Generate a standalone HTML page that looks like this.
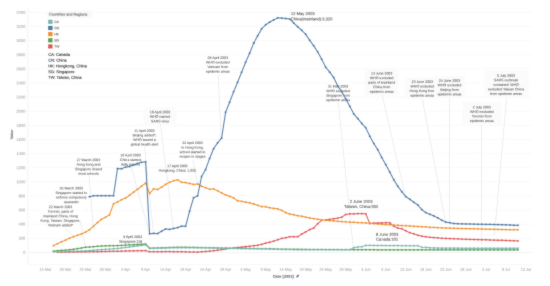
<!DOCTYPE html>
<html><head><meta charset="utf-8"><title>SARS 2003</title><style>html,body{margin:0;padding:0;background:#fff}body{width:550px;height:286px;overflow:hidden}</style></head><body>
<div style="width:1100px;height:572px;transform:scale(0.5);transform-origin:0 0;will-change:transform"><svg width="1100" height="572" viewBox="0 0 550 286" style="display:block;font-family:'Liberation Sans',sans-serif" text-rendering="geometricPrecision">
<defs><filter id="soft" x="0" y="0" width="550" height="286" filterUnits="userSpaceOnUse" color-interpolation-filters="sRGB"><feGaussianBlur in="SourceGraphic" stdDeviation="0.8" result="b"/><feComposite in="b" in2="SourceGraphic" operator="arithmetic" k1="0" k2="0.5" k3="0.5" k4="0"/></filter></defs>
<g filter="url(#soft)">
<rect width="550" height="286" fill="#fff"/>
<line x1="27.6" x2="531.4" y1="252.40" y2="252.40" stroke="#ededed" stroke-width="0.6"/>
<text x="25.3" y="253.80" transform="rotate(0.05 25.3 253.80)" font-size="4.0" fill="#9c9c9c" stroke="#9c9c9c" stroke-width="0.04" text-anchor="end">0</text>
<line x1="27.6" x2="531.4" y1="238.28" y2="238.28" stroke="#f7f7f7" stroke-width="0.6"/>
<text x="25.3" y="239.68" transform="rotate(0.05 25.3 239.68)" font-size="4.0" fill="#9c9c9c" stroke="#9c9c9c" stroke-width="0.04" text-anchor="end">200</text>
<line x1="27.6" x2="531.4" y1="224.16" y2="224.16" stroke="#f7f7f7" stroke-width="0.6"/>
<text x="25.3" y="225.56" transform="rotate(0.05 25.3 225.56)" font-size="4.0" fill="#9c9c9c" stroke="#9c9c9c" stroke-width="0.04" text-anchor="end">400</text>
<line x1="27.6" x2="531.4" y1="210.05" y2="210.05" stroke="#f7f7f7" stroke-width="0.6"/>
<text x="25.3" y="211.45" transform="rotate(0.05 25.3 211.45)" font-size="4.0" fill="#9c9c9c" stroke="#9c9c9c" stroke-width="0.04" text-anchor="end">600</text>
<line x1="27.6" x2="531.4" y1="195.93" y2="195.93" stroke="#f7f7f7" stroke-width="0.6"/>
<text x="25.3" y="197.33" transform="rotate(0.05 25.3 197.33)" font-size="4.0" fill="#9c9c9c" stroke="#9c9c9c" stroke-width="0.04" text-anchor="end">800</text>
<line x1="27.6" x2="531.4" y1="181.81" y2="181.81" stroke="#f7f7f7" stroke-width="0.6"/>
<text x="25.3" y="183.21" transform="rotate(0.05 25.3 183.21)" font-size="4.0" fill="#9c9c9c" stroke="#9c9c9c" stroke-width="0.04" text-anchor="end">1000</text>
<line x1="27.6" x2="531.4" y1="167.69" y2="167.69" stroke="#f7f7f7" stroke-width="0.6"/>
<text x="25.3" y="169.09" transform="rotate(0.05 25.3 169.09)" font-size="4.0" fill="#9c9c9c" stroke="#9c9c9c" stroke-width="0.04" text-anchor="end">1200</text>
<line x1="27.6" x2="531.4" y1="153.58" y2="153.58" stroke="#f7f7f7" stroke-width="0.6"/>
<text x="25.3" y="154.98" transform="rotate(0.05 25.3 154.98)" font-size="4.0" fill="#9c9c9c" stroke="#9c9c9c" stroke-width="0.04" text-anchor="end">1400</text>
<line x1="27.6" x2="531.4" y1="139.46" y2="139.46" stroke="#f7f7f7" stroke-width="0.6"/>
<text x="25.3" y="140.86" transform="rotate(0.05 25.3 140.86)" font-size="4.0" fill="#9c9c9c" stroke="#9c9c9c" stroke-width="0.04" text-anchor="end">1600</text>
<line x1="27.6" x2="531.4" y1="125.34" y2="125.34" stroke="#f7f7f7" stroke-width="0.6"/>
<text x="25.3" y="126.74" transform="rotate(0.05 25.3 126.74)" font-size="4.0" fill="#9c9c9c" stroke="#9c9c9c" stroke-width="0.04" text-anchor="end">1800</text>
<line x1="27.6" x2="531.4" y1="111.22" y2="111.22" stroke="#f7f7f7" stroke-width="0.6"/>
<text x="25.3" y="112.62" transform="rotate(0.05 25.3 112.62)" font-size="4.0" fill="#9c9c9c" stroke="#9c9c9c" stroke-width="0.04" text-anchor="end">2000</text>
<line x1="27.6" x2="531.4" y1="97.11" y2="97.11" stroke="#f7f7f7" stroke-width="0.6"/>
<text x="25.3" y="98.51" transform="rotate(0.05 25.3 98.51)" font-size="4.0" fill="#9c9c9c" stroke="#9c9c9c" stroke-width="0.04" text-anchor="end">2200</text>
<line x1="27.6" x2="531.4" y1="82.99" y2="82.99" stroke="#f7f7f7" stroke-width="0.6"/>
<text x="25.3" y="84.39" transform="rotate(0.05 25.3 84.39)" font-size="4.0" fill="#9c9c9c" stroke="#9c9c9c" stroke-width="0.04" text-anchor="end">2400</text>
<line x1="27.6" x2="531.4" y1="68.87" y2="68.87" stroke="#f7f7f7" stroke-width="0.6"/>
<text x="25.3" y="70.27" transform="rotate(0.05 25.3 70.27)" font-size="4.0" fill="#9c9c9c" stroke="#9c9c9c" stroke-width="0.04" text-anchor="end">2600</text>
<line x1="27.6" x2="531.4" y1="54.75" y2="54.75" stroke="#f7f7f7" stroke-width="0.6"/>
<text x="25.3" y="56.15" transform="rotate(0.05 25.3 56.15)" font-size="4.0" fill="#9c9c9c" stroke="#9c9c9c" stroke-width="0.04" text-anchor="end">2800</text>
<line x1="27.6" x2="531.4" y1="40.64" y2="40.64" stroke="#f7f7f7" stroke-width="0.6"/>
<text x="25.3" y="42.04" transform="rotate(0.05 25.3 42.04)" font-size="4.0" fill="#9c9c9c" stroke="#9c9c9c" stroke-width="0.04" text-anchor="end">3000</text>
<line x1="27.6" x2="531.4" y1="26.52" y2="26.52" stroke="#f7f7f7" stroke-width="0.6"/>
<text x="25.3" y="27.92" transform="rotate(0.05 25.3 27.92)" font-size="4.0" fill="#9c9c9c" stroke="#9c9c9c" stroke-width="0.04" text-anchor="end">3200</text>
<line x1="27.6" x2="531.4" y1="12.40" y2="12.40" stroke="#f7f7f7" stroke-width="0.6"/>
<text x="25.3" y="13.80" transform="rotate(0.05 25.3 13.80)" font-size="4.0" fill="#9c9c9c" stroke="#9c9c9c" stroke-width="0.04" text-anchor="end">3400</text>
<line x1="27.8" x2="27.8" y1="7.8" y2="264.5" stroke="#eeeeee" stroke-width="0.6"/>
<line x1="27.6" x2="531.4" y1="264.5" y2="264.5" stroke="#f1f1f1" stroke-width="0.6"/>
<text x="45.5" y="270.75" transform="rotate(0.05 45.5 270.75)" font-size="3.85" fill="#9c9c9c" stroke="#9c9c9c" stroke-width="0.04" text-anchor="middle">15 Mar</text>
<text x="65.5" y="270.75" transform="rotate(0.05 65.5 270.75)" font-size="3.85" fill="#9c9c9c" stroke="#9c9c9c" stroke-width="0.04" text-anchor="middle">20 Mar</text>
<text x="85.5" y="270.75" transform="rotate(0.05 85.5 270.75)" font-size="3.85" fill="#9c9c9c" stroke="#9c9c9c" stroke-width="0.04" text-anchor="middle">25 Mar</text>
<text x="105.5" y="270.75" transform="rotate(0.05 105.5 270.75)" font-size="3.85" fill="#9c9c9c" stroke="#9c9c9c" stroke-width="0.04" text-anchor="middle">30 Mar</text>
<text x="125.5" y="270.75" transform="rotate(0.05 125.5 270.75)" font-size="3.85" fill="#9c9c9c" stroke="#9c9c9c" stroke-width="0.04" text-anchor="middle">4 Apr</text>
<text x="145.6" y="270.75" transform="rotate(0.05 145.6 270.75)" font-size="3.85" fill="#9c9c9c" stroke="#9c9c9c" stroke-width="0.04" text-anchor="middle">9 Apr</text>
<text x="165.6" y="270.75" transform="rotate(0.05 165.6 270.75)" font-size="3.85" fill="#9c9c9c" stroke="#9c9c9c" stroke-width="0.04" text-anchor="middle">14 Apr</text>
<text x="185.6" y="270.75" transform="rotate(0.05 185.6 270.75)" font-size="3.85" fill="#9c9c9c" stroke="#9c9c9c" stroke-width="0.04" text-anchor="middle">19 Apr</text>
<text x="205.6" y="270.75" transform="rotate(0.05 205.6 270.75)" font-size="3.85" fill="#9c9c9c" stroke="#9c9c9c" stroke-width="0.04" text-anchor="middle">24 Apr</text>
<text x="225.6" y="270.75" transform="rotate(0.05 225.6 270.75)" font-size="3.85" fill="#9c9c9c" stroke="#9c9c9c" stroke-width="0.04" text-anchor="middle">29 Apr</text>
<text x="245.6" y="270.75" transform="rotate(0.05 245.6 270.75)" font-size="3.85" fill="#9c9c9c" stroke="#9c9c9c" stroke-width="0.04" text-anchor="middle">4 May</text>
<text x="265.7" y="270.75" transform="rotate(0.05 265.7 270.75)" font-size="3.85" fill="#9c9c9c" stroke="#9c9c9c" stroke-width="0.04" text-anchor="middle">9 May</text>
<text x="285.7" y="270.75" transform="rotate(0.05 285.7 270.75)" font-size="3.85" fill="#9c9c9c" stroke="#9c9c9c" stroke-width="0.04" text-anchor="middle">14 May</text>
<text x="305.7" y="270.75" transform="rotate(0.05 305.7 270.75)" font-size="3.85" fill="#9c9c9c" stroke="#9c9c9c" stroke-width="0.04" text-anchor="middle">19 May</text>
<text x="325.7" y="270.75" transform="rotate(0.05 325.7 270.75)" font-size="3.85" fill="#9c9c9c" stroke="#9c9c9c" stroke-width="0.04" text-anchor="middle">24 May</text>
<text x="345.7" y="270.75" transform="rotate(0.05 345.7 270.75)" font-size="3.85" fill="#9c9c9c" stroke="#9c9c9c" stroke-width="0.04" text-anchor="middle">29 May</text>
<text x="365.8" y="270.75" transform="rotate(0.05 365.8 270.75)" font-size="3.85" fill="#9c9c9c" stroke="#9c9c9c" stroke-width="0.04" text-anchor="middle">3 Jun</text>
<text x="385.8" y="270.75" transform="rotate(0.05 385.8 270.75)" font-size="3.85" fill="#9c9c9c" stroke="#9c9c9c" stroke-width="0.04" text-anchor="middle">8 Jun</text>
<text x="405.8" y="270.75" transform="rotate(0.05 405.8 270.75)" font-size="3.85" fill="#9c9c9c" stroke="#9c9c9c" stroke-width="0.04" text-anchor="middle">13 Jun</text>
<text x="425.8" y="270.75" transform="rotate(0.05 425.8 270.75)" font-size="3.85" fill="#9c9c9c" stroke="#9c9c9c" stroke-width="0.04" text-anchor="middle">18 Jun</text>
<text x="445.8" y="270.75" transform="rotate(0.05 445.8 270.75)" font-size="3.85" fill="#9c9c9c" stroke="#9c9c9c" stroke-width="0.04" text-anchor="middle">23 Jun</text>
<text x="465.9" y="270.75" transform="rotate(0.05 465.9 270.75)" font-size="3.85" fill="#9c9c9c" stroke="#9c9c9c" stroke-width="0.04" text-anchor="middle">28 Jun</text>
<text x="485.9" y="270.75" transform="rotate(0.05 485.9 270.75)" font-size="3.85" fill="#9c9c9c" stroke="#9c9c9c" stroke-width="0.04" text-anchor="middle">3 Jul</text>
<text x="505.9" y="270.75" transform="rotate(0.05 505.9 270.75)" font-size="3.85" fill="#9c9c9c" stroke="#9c9c9c" stroke-width="0.04" text-anchor="middle">8 Jul</text>
<text x="525.9" y="270.75" transform="rotate(0.05 525.9 270.75)" font-size="3.85" fill="#9c9c9c" stroke="#9c9c9c" stroke-width="0.04" text-anchor="middle">13 Jul</text>
<text x="283.4" y="277.80" transform="rotate(0.05 283.4 277.80)" font-size="3.92" fill="#555" stroke="#555" stroke-width="0" text-anchor="middle" font-weight="bold">Date [2003]</text>
<g transform="translate(297.4 276.3) rotate(45)" fill="#56627a"><rect x="-0.75" y="-1.7" width="1.5" height="2.3" rx="0.3"/><rect x="-1.15" y="0.3" width="2.3" height="0.5"/><rect x="-0.15" y="0.8" width="0.3" height="1.3"/></g>
<text transform="translate(13.2 134.5) rotate(-90)" font-size="3.75" font-weight="bold" fill="#555" text-anchor="middle">Value</text>
<line x1="77.3" y1="204.5" x2="85.4" y2="246.9" stroke="#dedede" stroke-width="0.5"/>
<text x="71.3" y="189.43" transform="rotate(0.05 71.3 189.43)" font-size="3.52" fill="#404040" stroke="#404040" stroke-width="0.03" text-anchor="middle">25 March 2003</text>
<text x="71.3" y="193.98" transform="rotate(0.05 71.3 193.98)" font-size="3.52" fill="#404040" stroke="#404040" stroke-width="0.03" text-anchor="middle">Singapore started to</text>
<text x="71.3" y="198.53" transform="rotate(0.05 71.3 198.53)" font-size="3.52" fill="#404040" stroke="#404040" stroke-width="0.03" text-anchor="middle">enforce compulsory</text>
<text x="71.3" y="203.08" transform="rotate(0.05 71.3 203.08)" font-size="3.52" fill="#404040" stroke="#404040" stroke-width="0.03" text-anchor="middle">quarantin</text>
<rect x="38" y="203.5" width="45.0" height="19.5" fill="#fff"/>
<line x1="65.5" y1="228.5" x2="73.4" y2="235.5" stroke="#dedede" stroke-width="0.5"/>
<text x="60.5" y="208.13" transform="rotate(0.05 60.5 208.13)" font-size="3.52" fill="#404040" stroke="#404040" stroke-width="0.03" text-anchor="middle">22 March 2003</text>
<text x="60.5" y="212.68" transform="rotate(0.05 60.5 212.68)" font-size="3.52" fill="#404040" stroke="#404040" stroke-width="0.03" text-anchor="middle">Toronto, parts of</text>
<text x="60.5" y="217.23" transform="rotate(0.05 60.5 217.23)" font-size="3.52" fill="#404040" stroke="#404040" stroke-width="0.03" text-anchor="middle">mainland China, Hong</text>
<text x="60.5" y="221.78" transform="rotate(0.05 60.5 221.78)" font-size="3.52" fill="#404040" stroke="#404040" stroke-width="0.03" text-anchor="middle">Kong, Taiwan, Singapore,</text>
<text x="60.5" y="226.33" transform="rotate(0.05 60.5 226.33)" font-size="3.52" fill="#404040" stroke="#404040" stroke-width="0.03" text-anchor="middle">Vietnam added*</text>
<line x1="89.1" y1="176.4" x2="93.4" y2="227.3" stroke="#dedede" stroke-width="0.5"/>
<text x="88.5" y="161.13" transform="rotate(0.05 88.5 161.13)" font-size="3.52" fill="#404040" stroke="#404040" stroke-width="0.03" text-anchor="middle">27 March 2003</text>
<text x="88.5" y="165.68" transform="rotate(0.05 88.5 165.68)" font-size="3.52" fill="#404040" stroke="#404040" stroke-width="0.03" text-anchor="middle">Hong kong and</text>
<text x="88.5" y="170.23" transform="rotate(0.05 88.5 170.23)" font-size="3.52" fill="#404040" stroke="#404040" stroke-width="0.03" text-anchor="middle">Singapore closed</text>
<text x="88.5" y="174.78" transform="rotate(0.05 88.5 174.78)" font-size="3.52" fill="#404040" stroke="#404040" stroke-width="0.03" text-anchor="middle">most schools</text>
<line x1="131.4" y1="167.3" x2="149.4" y2="233.5" stroke="#dedede" stroke-width="0.5"/>
<text x="130.5" y="156.43" transform="rotate(0.05 130.5 156.43)" font-size="3.52" fill="#404040" stroke="#404040" stroke-width="0.03" text-anchor="middle">10 April 2003</text>
<text x="130.5" y="160.98" transform="rotate(0.05 130.5 160.98)" font-size="3.52" fill="#404040" stroke="#404040" stroke-width="0.03" text-anchor="middle">China started</text>
<text x="130.5" y="165.53" transform="rotate(0.05 130.5 165.53)" font-size="3.52" fill="#404040" stroke="#404040" stroke-width="0.03" text-anchor="middle">daily reports</text>
<line x1="144.5" y1="146.8" x2="153.4" y2="233.1" stroke="#dedede" stroke-width="0.5"/>
<text x="144.5" y="131.83" transform="rotate(0.05 144.5 131.83)" font-size="3.52" fill="#404040" stroke="#404040" stroke-width="0.03" text-anchor="middle">11 April 2003</text>
<text x="144.5" y="136.38" transform="rotate(0.05 144.5 136.38)" font-size="3.52" fill="#404040" stroke="#404040" stroke-width="0.03" text-anchor="middle">Beijing added*;</text>
<text x="144.5" y="140.93" transform="rotate(0.05 144.5 140.93)" font-size="3.52" fill="#404040" stroke="#404040" stroke-width="0.03" text-anchor="middle">WHO issued a</text>
<text x="144.5" y="145.48" transform="rotate(0.05 144.5 145.48)" font-size="3.52" fill="#404040" stroke="#404040" stroke-width="0.03" text-anchor="middle">global health alert</text>
<rect x="143.8" y="107" width="32.4" height="17.5" fill="#fbfbfb"/>
<line x1="160.4" y1="124.5" x2="173.4" y2="228.2" stroke="#dedede" stroke-width="0.5"/>
<text x="160" y="113.23" transform="rotate(0.05 160 113.23)" font-size="3.52" fill="#404040" stroke="#404040" stroke-width="0.03" text-anchor="middle">16 April 2003</text>
<text x="160" y="117.78" transform="rotate(0.05 160 117.78)" font-size="3.52" fill="#404040" stroke="#404040" stroke-width="0.03" text-anchor="middle">WHO named</text>
<text x="160" y="122.33" transform="rotate(0.05 160 122.33)" font-size="3.52" fill="#404040" stroke="#404040" stroke-width="0.03" text-anchor="middle">SARS virus</text>
<line x1="192.7" y1="159.5" x2="197.4" y2="183.7" stroke="#dedede" stroke-width="0.5"/>
<text x="192.5" y="144.03" transform="rotate(0.05 192.5 144.03)" font-size="3.52" fill="#404040" stroke="#404040" stroke-width="0.03" text-anchor="middle">22 April 2003</text>
<text x="192.5" y="148.58" transform="rotate(0.05 192.5 148.58)" font-size="3.52" fill="#404040" stroke="#404040" stroke-width="0.03" text-anchor="middle">In Hong Kong,</text>
<text x="192.5" y="153.13" transform="rotate(0.05 192.5 153.13)" font-size="3.52" fill="#404040" stroke="#404040" stroke-width="0.03" text-anchor="middle">school started to</text>
<text x="192.5" y="157.68" transform="rotate(0.05 192.5 157.68)" font-size="3.52" fill="#404040" stroke="#404040" stroke-width="0.03" text-anchor="middle">reopen in stages</text>
<line x1="218.2" y1="74.6" x2="221.0" y2="136.5" stroke="#dedede" stroke-width="0.5"/>
<text x="217.8" y="58.93" transform="rotate(0.05 217.8 58.93)" font-size="3.52" fill="#404040" stroke="#404040" stroke-width="0.03" text-anchor="middle">28 April 2003</text>
<text x="217.8" y="63.48" transform="rotate(0.05 217.8 63.48)" font-size="3.52" fill="#404040" stroke="#404040" stroke-width="0.03" text-anchor="middle">WHO excluded</text>
<text x="217.8" y="68.03" transform="rotate(0.05 217.8 68.03)" font-size="3.52" fill="#404040" stroke="#404040" stroke-width="0.03" text-anchor="middle">Vietnam  from</text>
<text x="217.8" y="72.58" transform="rotate(0.05 217.8 72.58)" font-size="3.52" fill="#404040" stroke="#404040" stroke-width="0.03" text-anchor="middle">epidemic areas</text>
<line x1="338.3" y1="102.8" x2="353.4" y2="249.3" stroke="#dedede" stroke-width="0.5"/>
<text x="338.1" y="87.53" transform="rotate(0.05 338.1 87.53)" font-size="3.52" fill="#404040" stroke="#404040" stroke-width="0.03" text-anchor="middle">31 May 2003</text>
<text x="338.1" y="92.08" transform="rotate(0.05 338.1 92.08)" font-size="3.52" fill="#404040" stroke="#404040" stroke-width="0.03" text-anchor="middle">WHO excluded</text>
<text x="338.1" y="96.63" transform="rotate(0.05 338.1 96.63)" font-size="3.52" fill="#404040" stroke="#404040" stroke-width="0.03" text-anchor="middle">Singapore from</text>
<text x="338.1" y="101.18" transform="rotate(0.05 338.1 101.18)" font-size="3.52" fill="#404040" stroke="#404040" stroke-width="0.03" text-anchor="middle">epidemic areas</text>
<rect x="364.8" y="69.4" width="33.8" height="26.2" fill="#fbfbfb"/>
<line x1="382.3" y1="95.5" x2="405.4" y2="196.3" stroke="#dedede" stroke-width="0.5"/>
<text x="381.7" y="74.53" transform="rotate(0.05 381.7 74.53)" font-size="3.52" fill="#404040" stroke="#404040" stroke-width="0.03" text-anchor="middle">13 June 2003</text>
<text x="381.7" y="79.08" transform="rotate(0.05 381.7 79.08)" font-size="3.52" fill="#404040" stroke="#404040" stroke-width="0.03" text-anchor="middle">WHO excluded</text>
<text x="381.7" y="83.63" transform="rotate(0.05 381.7 83.63)" font-size="3.52" fill="#404040" stroke="#404040" stroke-width="0.03" text-anchor="middle">parts of mainland</text>
<text x="381.7" y="88.18" transform="rotate(0.05 381.7 88.18)" font-size="3.52" fill="#404040" stroke="#404040" stroke-width="0.03" text-anchor="middle">China from</text>
<text x="381.7" y="92.73" transform="rotate(0.05 381.7 92.73)" font-size="3.52" fill="#404040" stroke="#404040" stroke-width="0.03" text-anchor="middle">epidemic areas</text>
<rect x="405" y="77.7" width="31.0" height="20.9" fill="#fbfbfb"/>
<line x1="422.3" y1="98.6" x2="445.4" y2="221.8" stroke="#dedede" stroke-width="0.5"/>
<text x="422.3" y="82.93" transform="rotate(0.05 422.3 82.93)" font-size="3.52" fill="#404040" stroke="#404040" stroke-width="0.03" text-anchor="middle">23 June 2003</text>
<text x="422.3" y="87.48" transform="rotate(0.05 422.3 87.48)" font-size="3.52" fill="#404040" stroke="#404040" stroke-width="0.03" text-anchor="middle">WHO excluded</text>
<text x="422.3" y="92.03" transform="rotate(0.05 422.3 92.03)" font-size="3.52" fill="#404040" stroke="#404040" stroke-width="0.03" text-anchor="middle">Hong Kong from</text>
<text x="422.3" y="96.58" transform="rotate(0.05 422.3 96.58)" font-size="3.52" fill="#404040" stroke="#404040" stroke-width="0.03" text-anchor="middle">epidemic areas</text>
<rect x="434" y="75.9" width="31.0" height="21.8" fill="#fbfbfb"/>
<line x1="449.5" y1="97.7" x2="449.4" y2="222.4" stroke="#dedede" stroke-width="0.5"/>
<text x="449.5" y="81.73" transform="rotate(0.05 449.5 81.73)" font-size="3.52" fill="#404040" stroke="#404040" stroke-width="0.03" text-anchor="middle">24 June 2003</text>
<text x="449.5" y="86.28" transform="rotate(0.05 449.5 86.28)" font-size="3.52" fill="#404040" stroke="#404040" stroke-width="0.03" text-anchor="middle">WHO excluded</text>
<text x="449.5" y="90.83" transform="rotate(0.05 449.5 90.83)" font-size="3.52" fill="#404040" stroke="#404040" stroke-width="0.03" text-anchor="middle">Beijing from</text>
<text x="449.5" y="95.38" transform="rotate(0.05 449.5 95.38)" font-size="3.52" fill="#404040" stroke="#404040" stroke-width="0.03" text-anchor="middle">epidemic areas</text>
<rect x="462.8" y="102.3" width="38.6" height="22.2" fill="#fbfbfb"/>
<line x1="481.6" y1="124.5" x2="481.4" y2="244.2" stroke="#dedede" stroke-width="0.5"/>
<text x="481.8" y="108.33" transform="rotate(0.05 481.8 108.33)" font-size="3.52" fill="#404040" stroke="#404040" stroke-width="0.03" text-anchor="middle">2 July 2003</text>
<text x="481.8" y="112.88" transform="rotate(0.05 481.8 112.88)" font-size="3.52" fill="#404040" stroke="#404040" stroke-width="0.03" text-anchor="middle">WHO excluded</text>
<text x="481.8" y="117.43" transform="rotate(0.05 481.8 117.43)" font-size="3.52" fill="#404040" stroke="#404040" stroke-width="0.03" text-anchor="middle">Toronto from</text>
<text x="481.8" y="121.98" transform="rotate(0.05 481.8 121.98)" font-size="3.52" fill="#404040" stroke="#404040" stroke-width="0.03" text-anchor="middle">epidemic areas</text>
<rect x="484.5" y="70.7" width="44.2" height="27.1" fill="#fbfbfb"/>
<line x1="506.6" y1="97.8" x2="494.4" y2="235.5" stroke="#dedede" stroke-width="0.5"/>
<text x="506" y="76.73" transform="rotate(0.05 506 76.73)" font-size="3.52" fill="#404040" stroke="#404040" stroke-width="0.03" text-anchor="middle">5 July 2003</text>
<text x="506" y="81.28" transform="rotate(0.05 506 81.28)" font-size="3.52" fill="#404040" stroke="#404040" stroke-width="0.03" text-anchor="middle">SARS outbreak</text>
<text x="506" y="85.83" transform="rotate(0.05 506 85.83)" font-size="3.52" fill="#404040" stroke="#404040" stroke-width="0.03" text-anchor="middle">contained; WHO</text>
<text x="506" y="90.38" transform="rotate(0.05 506 90.38)" font-size="3.52" fill="#404040" stroke="#404040" stroke-width="0.03" text-anchor="middle">excluded Taiwan China</text>
<text x="506" y="94.93" transform="rotate(0.05 506 94.93)" font-size="3.52" fill="#404040" stroke="#404040" stroke-width="0.03" text-anchor="middle">from epidemic areas</text>
<rect x="47.3" y="10.9" width="44.5" height="6.7" fill="#f8f8f8"/>
<text x="49" y="15.55" transform="rotate(0.05 49 15.55)" font-size="3.78" fill="#666" stroke="#666" stroke-width="0.12">Countries and Regions</text>
<rect x="48.15" y="19.75" width="4.4" height="4.15" fill="#76b7b2"/>
<text x="54.2" y="23.05" transform="rotate(0.05 54.2 23.05)" font-size="3.35" fill="#666" stroke="#666" stroke-width="0.12">CA</text>
<rect x="48.15" y="25.90" width="4.4" height="4.15" fill="#4e79a7"/>
<text x="54.2" y="29.20" transform="rotate(0.05 54.2 29.20)" font-size="3.35" fill="#666" stroke="#666" stroke-width="0.12">CN</text>
<rect x="48.15" y="32.05" width="4.4" height="4.15" fill="#f28e2b"/>
<text x="54.2" y="35.35" transform="rotate(0.05 54.2 35.35)" font-size="3.35" fill="#666" stroke="#666" stroke-width="0.12">HK</text>
<rect x="48.15" y="38.20" width="4.4" height="4.15" fill="#59a14f"/>
<text x="54.2" y="41.50" transform="rotate(0.05 54.2 41.50)" font-size="3.35" fill="#666" stroke="#666" stroke-width="0.12">SG</text>
<rect x="48.15" y="44.35" width="4.4" height="4.15" fill="#e15759"/>
<text x="54.2" y="47.65" transform="rotate(0.05 54.2 47.65)" font-size="3.35" fill="#666" stroke="#666" stroke-width="0.12">TW</text>
<text x="48.2" y="55.93" transform="rotate(0.05 48.2 55.93)" font-size="4.0" fill="#333" stroke="#333" stroke-width="0.12">CA: Canada</text>
<text x="48.2" y="61.65" transform="rotate(0.05 48.2 61.65)" font-size="4.0" fill="#333" stroke="#333" stroke-width="0.12">CN: China</text>
<text x="48.2" y="67.37" transform="rotate(0.05 48.2 67.37)" font-size="4.0" fill="#333" stroke="#333" stroke-width="0.12">HK: Hongkong, China</text>
<text x="48.2" y="73.09" transform="rotate(0.05 48.2 73.09)" font-size="4.0" fill="#333" stroke="#333" stroke-width="0.12">SG: Singapore</text>
<text x="48.2" y="78.81" transform="rotate(0.05 48.2 78.81)" font-size="4.0" fill="#333" stroke="#333" stroke-width="0.12">TW: Taiwan, China</text>
<polyline fill="none" stroke="#e15759" stroke-width="1.0" stroke-linejoin="round" stroke-linecap="round" points="57.5,252.2 61.5,252.2 65.5,252.1 69.5,252.1 73.5,252.0 77.5,252.0 81.5,251.9 85.5,251.9 89.5,251.8 93.5,251.8 97.5,251.7 101.5,251.6 105.5,251.5 109.5,251.4 113.5,251.3 117.5,251.2 121.5,251.1 125.5,251.0 129.5,250.9 133.5,250.9 137.5,250.8 141.5,250.7 145.6,250.6 149.6,251.8 153.6,251.8 157.6,251.7 161.6,251.7 165.6,251.6 169.6,251.6 173.6,251.7 177.6,251.7 181.6,251.8 185.6,251.9 189.6,252.0 193.6,252.0 197.6,252.1 201.6,251.8 205.6,251.5 209.6,251.1 213.6,250.8 217.6,250.2 221.6,249.6 225.6,249.0 229.6,248.4 233.6,247.9 237.6,247.5 241.6,247.1 245.6,246.6 249.7,246.2 253.7,245.8 257.7,245.3 261.7,244.4 265.7,243.1 269.7,242.2 273.7,241.1 277.7,239.8 281.7,238.4 285.7,237.7 289.7,236.8 293.7,236.8 297.7,236.8 301.7,234.0 305.7,231.9 309.7,229.6 313.7,228.1 317.7,223.7 321.7,220.3 325.7,219.9 329.7,219.4 333.7,218.8 337.7,218.1 341.7,217.2 345.7,214.5 349.8,213.9 353.8,213.9 357.8,213.6 361.8,213.6 365.8,213.9 369.8,223.6 373.8,223.0 377.8,223.0 381.8,222.9 385.8,222.8 389.8,222.7 393.8,226.3 397.8,228.1 401.8,228.8 405.8,230.8 409.8,232.7 413.8,233.9 417.8,235.2 421.8,236.1 425.8,236.7 429.8,237.2 433.8,237.6 437.8,237.9 441.8,238.2 445.8,238.4 449.9,238.6 453.9,238.8 457.9,238.9 461.9,239.1 465.9,239.2 469.9,239.4 473.9,239.5 477.9,239.6 481.9,239.7 485.9,239.8 489.9,240.0 493.9,240.1 497.9,240.2 501.9,240.3 505.9,240.5 509.9,240.6 513.9,240.8 517.9,240.9"/>
<g fill="#e15759"><circle cx="57.5" cy="252.2" r="1.0"/><circle cx="61.5" cy="252.2" r="1.0"/><circle cx="65.5" cy="252.1" r="1.0"/><circle cx="69.5" cy="252.1" r="1.0"/><circle cx="73.5" cy="252.0" r="1.0"/><circle cx="77.5" cy="252.0" r="1.0"/><circle cx="81.5" cy="251.9" r="1.0"/><circle cx="85.5" cy="251.9" r="1.0"/><circle cx="89.5" cy="251.8" r="1.0"/><circle cx="93.5" cy="251.8" r="1.0"/><circle cx="97.5" cy="251.7" r="1.0"/><circle cx="101.5" cy="251.6" r="1.0"/><circle cx="105.5" cy="251.5" r="1.0"/><circle cx="109.5" cy="251.4" r="1.0"/><circle cx="113.5" cy="251.3" r="1.0"/><circle cx="117.5" cy="251.2" r="1.0"/><circle cx="121.5" cy="251.1" r="1.0"/><circle cx="125.5" cy="251.0" r="1.0"/><circle cx="129.5" cy="250.9" r="1.0"/><circle cx="133.5" cy="250.9" r="1.0"/><circle cx="137.5" cy="250.8" r="1.0"/><circle cx="141.5" cy="250.7" r="1.0"/><circle cx="145.6" cy="250.6" r="1.0"/><circle cx="149.6" cy="251.8" r="1.0"/><circle cx="153.6" cy="251.8" r="1.0"/><circle cx="157.6" cy="251.7" r="1.0"/><circle cx="161.6" cy="251.7" r="1.0"/><circle cx="165.6" cy="251.6" r="1.0"/><circle cx="169.6" cy="251.6" r="1.0"/><circle cx="173.6" cy="251.7" r="1.0"/><circle cx="177.6" cy="251.7" r="1.0"/><circle cx="181.6" cy="251.8" r="1.0"/><circle cx="185.6" cy="251.9" r="1.0"/><circle cx="189.6" cy="252.0" r="1.0"/><circle cx="193.6" cy="252.0" r="1.0"/><circle cx="197.6" cy="252.1" r="1.0"/><circle cx="201.6" cy="251.8" r="1.0"/><circle cx="205.6" cy="251.5" r="1.0"/><circle cx="209.6" cy="251.1" r="1.0"/><circle cx="213.6" cy="250.8" r="1.0"/><circle cx="217.6" cy="250.2" r="1.0"/><circle cx="221.6" cy="249.6" r="1.0"/><circle cx="225.6" cy="249.0" r="1.0"/><circle cx="229.6" cy="248.4" r="1.0"/><circle cx="233.6" cy="247.9" r="1.0"/><circle cx="237.6" cy="247.5" r="1.0"/><circle cx="241.6" cy="247.1" r="1.0"/><circle cx="245.6" cy="246.6" r="1.0"/><circle cx="249.7" cy="246.2" r="1.0"/><circle cx="253.7" cy="245.8" r="1.0"/><circle cx="257.7" cy="245.3" r="1.0"/><circle cx="261.7" cy="244.4" r="1.0"/><circle cx="265.7" cy="243.1" r="1.0"/><circle cx="269.7" cy="242.2" r="1.0"/><circle cx="273.7" cy="241.1" r="1.0"/><circle cx="277.7" cy="239.8" r="1.0"/><circle cx="281.7" cy="238.4" r="1.0"/><circle cx="285.7" cy="237.7" r="1.0"/><circle cx="289.7" cy="236.8" r="1.0"/><circle cx="293.7" cy="236.8" r="1.0"/><circle cx="297.7" cy="236.8" r="1.0"/><circle cx="301.7" cy="234.0" r="1.0"/><circle cx="305.7" cy="231.9" r="1.0"/><circle cx="309.7" cy="229.6" r="1.0"/><circle cx="313.7" cy="228.1" r="1.0"/><circle cx="317.7" cy="223.7" r="1.0"/><circle cx="321.7" cy="220.3" r="1.0"/><circle cx="325.7" cy="219.9" r="1.0"/><circle cx="329.7" cy="219.4" r="1.0"/><circle cx="333.7" cy="218.8" r="1.0"/><circle cx="337.7" cy="218.1" r="1.0"/><circle cx="341.7" cy="217.2" r="1.0"/><circle cx="345.7" cy="214.5" r="1.0"/><circle cx="349.8" cy="213.9" r="1.0"/><circle cx="353.8" cy="213.9" r="1.0"/><circle cx="357.8" cy="213.6" r="1.0"/><circle cx="361.8" cy="213.6" r="1.0"/><circle cx="365.8" cy="213.9" r="1.0"/><circle cx="369.8" cy="223.6" r="1.0"/><circle cx="373.8" cy="223.0" r="1.0"/><circle cx="377.8" cy="223.0" r="1.0"/><circle cx="381.8" cy="222.9" r="1.0"/><circle cx="385.8" cy="222.8" r="1.0"/><circle cx="389.8" cy="222.7" r="1.0"/><circle cx="393.8" cy="226.3" r="1.0"/><circle cx="397.8" cy="228.1" r="1.0"/><circle cx="401.8" cy="228.8" r="1.0"/><circle cx="405.8" cy="230.8" r="1.0"/><circle cx="409.8" cy="232.7" r="1.0"/><circle cx="413.8" cy="233.9" r="1.0"/><circle cx="417.8" cy="235.2" r="1.0"/><circle cx="421.8" cy="236.1" r="1.0"/><circle cx="425.8" cy="236.7" r="1.0"/><circle cx="429.8" cy="237.2" r="1.0"/><circle cx="433.8" cy="237.6" r="1.0"/><circle cx="437.8" cy="237.9" r="1.0"/><circle cx="441.8" cy="238.2" r="1.0"/><circle cx="445.8" cy="238.4" r="1.0"/><circle cx="449.9" cy="238.6" r="1.0"/><circle cx="453.9" cy="238.8" r="1.0"/><circle cx="457.9" cy="238.9" r="1.0"/><circle cx="461.9" cy="239.1" r="1.0"/><circle cx="465.9" cy="239.2" r="1.0"/><circle cx="469.9" cy="239.4" r="1.0"/><circle cx="473.9" cy="239.5" r="1.0"/><circle cx="477.9" cy="239.6" r="1.0"/><circle cx="481.9" cy="239.7" r="1.0"/><circle cx="485.9" cy="239.8" r="1.0"/><circle cx="489.9" cy="240.0" r="1.0"/><circle cx="493.9" cy="240.1" r="1.0"/><circle cx="497.9" cy="240.2" r="1.0"/><circle cx="501.9" cy="240.3" r="1.0"/><circle cx="505.9" cy="240.5" r="1.0"/><circle cx="509.9" cy="240.6" r="1.0"/><circle cx="513.9" cy="240.8" r="1.0"/><circle cx="517.9" cy="240.9" r="1.0"/></g>
<polyline fill="none" stroke="#59a14f" stroke-width="1.0" stroke-linejoin="round" stroke-linecap="round" points="53.5,251.1 57.5,250.8 61.5,250.4 65.5,250.1 69.5,249.7 73.5,249.3 77.5,248.6 81.5,248.0 85.5,247.3 89.5,247.0 93.5,246.7 97.5,246.3 101.5,246.0 105.5,245.9 109.5,245.8 113.5,245.7 117.5,245.6 121.5,245.4 125.5,245.1 129.5,244.9 133.5,244.7 137.5,244.5 141.5,244.2 145.6,244.0 149.6,248.1 153.6,248.0 157.6,247.9 161.6,247.8 165.6,247.7 169.6,247.5 173.6,247.4 177.6,247.3 181.6,247.2 185.6,247.3 189.6,247.4 193.6,247.4 197.6,247.5 201.6,247.6 205.6,247.7 209.6,247.7 213.6,247.8 217.6,247.9 221.6,248.0 225.6,248.0 229.6,248.1 233.6,248.2 237.6,248.3 241.6,248.3 245.6,248.4 249.7,248.5 253.7,248.6 257.7,248.6 261.7,248.7 265.7,248.8 269.7,248.8 273.7,248.9 277.7,249.0 281.7,249.1 285.7,249.1 289.7,249.2 293.7,249.3 297.7,249.3 301.7,249.4 305.7,249.4 309.7,249.5 313.7,249.5 317.7,249.5 321.7,249.5 325.7,249.6 329.7,249.6 333.7,249.6 337.7,249.6 341.7,249.7 345.7,249.7 349.8,249.7 353.8,249.7 357.8,249.8 361.8,249.8 365.8,249.8 369.8,249.8 373.8,249.8 377.8,249.9 381.8,249.9 385.8,249.9 389.8,249.9 393.8,249.9 397.8,249.9 401.8,249.9 405.8,249.9 409.8,249.9 413.8,249.9 417.8,249.9 421.8,249.9 425.8,249.9 429.8,249.9 433.8,249.9 437.8,249.9 441.8,249.9 445.8,249.9 449.9,249.9 453.9,249.9 457.9,249.9 461.9,249.9 465.9,249.9 469.9,249.9 473.9,249.9 477.9,249.9 481.9,249.9 485.9,249.9 489.9,249.9 493.9,249.9 497.9,249.9 501.9,249.9 505.9,249.9 509.9,249.9 513.9,249.9 517.9,249.9"/>
<g fill="#59a14f"><circle cx="53.5" cy="251.1" r="1.0"/><circle cx="57.5" cy="250.8" r="1.0"/><circle cx="61.5" cy="250.4" r="1.0"/><circle cx="65.5" cy="250.1" r="1.0"/><circle cx="69.5" cy="249.7" r="1.0"/><circle cx="73.5" cy="249.3" r="1.0"/><circle cx="77.5" cy="248.6" r="1.0"/><circle cx="81.5" cy="248.0" r="1.0"/><circle cx="85.5" cy="247.3" r="1.0"/><circle cx="89.5" cy="247.0" r="1.0"/><circle cx="93.5" cy="246.7" r="1.0"/><circle cx="97.5" cy="246.3" r="1.0"/><circle cx="101.5" cy="246.0" r="1.0"/><circle cx="105.5" cy="245.9" r="1.0"/><circle cx="109.5" cy="245.8" r="1.0"/><circle cx="113.5" cy="245.7" r="1.0"/><circle cx="117.5" cy="245.6" r="1.0"/><circle cx="121.5" cy="245.4" r="1.0"/><circle cx="125.5" cy="245.1" r="1.0"/><circle cx="129.5" cy="244.9" r="1.0"/><circle cx="133.5" cy="244.7" r="1.0"/><circle cx="137.5" cy="244.5" r="1.0"/><circle cx="141.5" cy="244.2" r="1.0"/><circle cx="145.6" cy="244.0" r="1.0"/><circle cx="149.6" cy="248.1" r="1.0"/><circle cx="153.6" cy="248.0" r="1.0"/><circle cx="157.6" cy="247.9" r="1.0"/><circle cx="161.6" cy="247.8" r="1.0"/><circle cx="165.6" cy="247.7" r="1.0"/><circle cx="169.6" cy="247.5" r="1.0"/><circle cx="173.6" cy="247.4" r="1.0"/><circle cx="177.6" cy="247.3" r="1.0"/><circle cx="181.6" cy="247.2" r="1.0"/><circle cx="185.6" cy="247.3" r="1.0"/><circle cx="189.6" cy="247.4" r="1.0"/><circle cx="193.6" cy="247.4" r="1.0"/><circle cx="197.6" cy="247.5" r="1.0"/><circle cx="201.6" cy="247.6" r="1.0"/><circle cx="205.6" cy="247.7" r="1.0"/><circle cx="209.6" cy="247.7" r="1.0"/><circle cx="213.6" cy="247.8" r="1.0"/><circle cx="217.6" cy="247.9" r="1.0"/><circle cx="221.6" cy="248.0" r="1.0"/><circle cx="225.6" cy="248.0" r="1.0"/><circle cx="229.6" cy="248.1" r="1.0"/><circle cx="233.6" cy="248.2" r="1.0"/><circle cx="237.6" cy="248.3" r="1.0"/><circle cx="241.6" cy="248.3" r="1.0"/><circle cx="245.6" cy="248.4" r="1.0"/><circle cx="249.7" cy="248.5" r="1.0"/><circle cx="253.7" cy="248.6" r="1.0"/><circle cx="257.7" cy="248.6" r="1.0"/><circle cx="261.7" cy="248.7" r="1.0"/><circle cx="265.7" cy="248.8" r="1.0"/><circle cx="269.7" cy="248.8" r="1.0"/><circle cx="273.7" cy="248.9" r="1.0"/><circle cx="277.7" cy="249.0" r="1.0"/><circle cx="281.7" cy="249.1" r="1.0"/><circle cx="285.7" cy="249.1" r="1.0"/><circle cx="289.7" cy="249.2" r="1.0"/><circle cx="293.7" cy="249.3" r="1.0"/><circle cx="297.7" cy="249.3" r="1.0"/><circle cx="301.7" cy="249.4" r="1.0"/><circle cx="305.7" cy="249.4" r="1.0"/><circle cx="309.7" cy="249.5" r="1.0"/><circle cx="313.7" cy="249.5" r="1.0"/><circle cx="317.7" cy="249.5" r="1.0"/><circle cx="321.7" cy="249.5" r="1.0"/><circle cx="325.7" cy="249.6" r="1.0"/><circle cx="329.7" cy="249.6" r="1.0"/><circle cx="333.7" cy="249.6" r="1.0"/><circle cx="337.7" cy="249.6" r="1.0"/><circle cx="341.7" cy="249.7" r="1.0"/><circle cx="345.7" cy="249.7" r="1.0"/><circle cx="349.8" cy="249.7" r="1.0"/><circle cx="353.8" cy="249.7" r="1.0"/><circle cx="357.8" cy="249.8" r="1.0"/><circle cx="361.8" cy="249.8" r="1.0"/><circle cx="365.8" cy="249.8" r="1.0"/><circle cx="369.8" cy="249.8" r="1.0"/><circle cx="373.8" cy="249.8" r="1.0"/><circle cx="377.8" cy="249.9" r="1.0"/><circle cx="381.8" cy="249.9" r="1.0"/><circle cx="385.8" cy="249.9" r="1.0"/><circle cx="389.8" cy="249.9" r="1.0"/><circle cx="393.8" cy="249.9" r="1.0"/><circle cx="397.8" cy="249.9" r="1.0"/><circle cx="401.8" cy="249.9" r="1.0"/><circle cx="405.8" cy="249.9" r="1.0"/><circle cx="409.8" cy="249.9" r="1.0"/><circle cx="413.8" cy="249.9" r="1.0"/><circle cx="417.8" cy="249.9" r="1.0"/><circle cx="421.8" cy="249.9" r="1.0"/><circle cx="425.8" cy="249.9" r="1.0"/><circle cx="429.8" cy="249.9" r="1.0"/><circle cx="433.8" cy="249.9" r="1.0"/><circle cx="437.8" cy="249.9" r="1.0"/><circle cx="441.8" cy="249.9" r="1.0"/><circle cx="445.8" cy="249.9" r="1.0"/><circle cx="449.9" cy="249.9" r="1.0"/><circle cx="453.9" cy="249.9" r="1.0"/><circle cx="457.9" cy="249.9" r="1.0"/><circle cx="461.9" cy="249.9" r="1.0"/><circle cx="465.9" cy="249.9" r="1.0"/><circle cx="469.9" cy="249.9" r="1.0"/><circle cx="473.9" cy="249.9" r="1.0"/><circle cx="477.9" cy="249.9" r="1.0"/><circle cx="481.9" cy="249.9" r="1.0"/><circle cx="485.9" cy="249.9" r="1.0"/><circle cx="489.9" cy="249.9" r="1.0"/><circle cx="493.9" cy="249.9" r="1.0"/><circle cx="497.9" cy="249.9" r="1.0"/><circle cx="501.9" cy="249.9" r="1.0"/><circle cx="505.9" cy="249.9" r="1.0"/><circle cx="509.9" cy="249.9" r="1.0"/><circle cx="513.9" cy="249.9" r="1.0"/><circle cx="517.9" cy="249.9" r="1.0"/></g>
<polyline fill="none" stroke="#f28e2b" stroke-width="1.0" stroke-linejoin="round" stroke-linecap="round" points="53.5,245.7 57.5,243.7 61.5,241.8 65.5,240.1 69.5,238.2 73.5,236.7 77.5,235.3 81.5,233.9 85.5,232.1 89.5,229.8 93.5,226.3 97.5,222.5 101.5,219.3 105.5,217.2 109.5,214.9 113.5,203.9 117.5,201.9 121.5,199.8 125.5,198.0 129.5,195.3 133.5,192.2 137.5,189.3 141.5,186.2 145.6,183.1 149.6,193.5 153.6,188.9 157.6,189.5 161.6,187.1 165.6,184.4 169.6,182.2 173.6,180.8 177.6,179.9 181.6,182.2 185.6,182.6 189.6,183.5 193.6,184.4 197.6,184.0 201.6,186.2 205.6,187.7 209.6,189.3 213.6,188.9 217.6,190.8 221.6,192.9 225.6,194.9 229.6,196.2 233.6,198.0 237.6,200.8 241.6,201.4 245.6,202.1 249.7,202.9 253.7,204.0 257.7,205.3 261.7,206.6 265.7,206.8 269.7,207.7 273.7,208.4 277.7,208.9 281.7,210.4 285.7,212.6 289.7,214.0 293.7,214.8 297.7,215.7 301.7,216.2 305.7,217.1 309.7,218.0 313.7,218.6 317.7,219.3 321.7,219.9 325.7,220.2 329.7,220.6 333.7,220.9 337.7,221.2 341.7,221.6 345.7,221.9 349.8,222.1 353.8,222.3 357.8,222.6 361.8,222.8 365.8,223.0 369.8,223.3 373.8,223.6 377.8,224.0 381.8,224.3 385.8,224.6 389.8,224.8 393.8,225.1 397.8,225.3 401.8,225.6 405.8,225.8 409.8,226.0 413.8,226.2 417.8,226.5 421.8,226.7 425.8,226.9 429.8,227.2 433.8,227.4 437.8,227.7 441.8,227.9 445.8,228.0 449.9,228.1 453.9,228.2 457.9,228.4 461.9,228.5 465.9,228.6 469.9,228.7 473.9,228.8 477.9,228.9 481.9,229.0 485.9,229.1 489.9,229.2 493.9,229.3 497.9,229.4 501.9,229.5 505.9,229.6 509.9,229.7 513.9,229.7 517.9,229.8"/>
<g fill="#f28e2b"><circle cx="53.5" cy="245.7" r="1.0"/><circle cx="57.5" cy="243.7" r="1.0"/><circle cx="61.5" cy="241.8" r="1.0"/><circle cx="65.5" cy="240.1" r="1.0"/><circle cx="69.5" cy="238.2" r="1.0"/><circle cx="73.5" cy="236.7" r="1.0"/><circle cx="77.5" cy="235.3" r="1.0"/><circle cx="81.5" cy="233.9" r="1.0"/><circle cx="85.5" cy="232.1" r="1.0"/><circle cx="89.5" cy="229.8" r="1.0"/><circle cx="93.5" cy="226.3" r="1.0"/><circle cx="97.5" cy="222.5" r="1.0"/><circle cx="101.5" cy="219.3" r="1.0"/><circle cx="105.5" cy="217.2" r="1.0"/><circle cx="109.5" cy="214.9" r="1.0"/><circle cx="113.5" cy="203.9" r="1.0"/><circle cx="117.5" cy="201.9" r="1.0"/><circle cx="121.5" cy="199.8" r="1.0"/><circle cx="125.5" cy="198.0" r="1.0"/><circle cx="129.5" cy="195.3" r="1.0"/><circle cx="133.5" cy="192.2" r="1.0"/><circle cx="137.5" cy="189.3" r="1.0"/><circle cx="141.5" cy="186.2" r="1.0"/><circle cx="145.6" cy="183.1" r="1.0"/><circle cx="149.6" cy="193.5" r="1.0"/><circle cx="153.6" cy="188.9" r="1.0"/><circle cx="157.6" cy="189.5" r="1.0"/><circle cx="161.6" cy="187.1" r="1.0"/><circle cx="165.6" cy="184.4" r="1.0"/><circle cx="169.6" cy="182.2" r="1.0"/><circle cx="173.6" cy="180.8" r="1.0"/><circle cx="177.6" cy="179.9" r="1.0"/><circle cx="181.6" cy="182.2" r="1.0"/><circle cx="185.6" cy="182.6" r="1.0"/><circle cx="189.6" cy="183.5" r="1.0"/><circle cx="193.6" cy="184.4" r="1.0"/><circle cx="197.6" cy="184.0" r="1.0"/><circle cx="201.6" cy="186.2" r="1.0"/><circle cx="205.6" cy="187.7" r="1.0"/><circle cx="209.6" cy="189.3" r="1.0"/><circle cx="213.6" cy="188.9" r="1.0"/><circle cx="217.6" cy="190.8" r="1.0"/><circle cx="221.6" cy="192.9" r="1.0"/><circle cx="225.6" cy="194.9" r="1.0"/><circle cx="229.6" cy="196.2" r="1.0"/><circle cx="233.6" cy="198.0" r="1.0"/><circle cx="237.6" cy="200.8" r="1.0"/><circle cx="241.6" cy="201.4" r="1.0"/><circle cx="245.6" cy="202.1" r="1.0"/><circle cx="249.7" cy="202.9" r="1.0"/><circle cx="253.7" cy="204.0" r="1.0"/><circle cx="257.7" cy="205.3" r="1.0"/><circle cx="261.7" cy="206.6" r="1.0"/><circle cx="265.7" cy="206.8" r="1.0"/><circle cx="269.7" cy="207.7" r="1.0"/><circle cx="273.7" cy="208.4" r="1.0"/><circle cx="277.7" cy="208.9" r="1.0"/><circle cx="281.7" cy="210.4" r="1.0"/><circle cx="285.7" cy="212.6" r="1.0"/><circle cx="289.7" cy="214.0" r="1.0"/><circle cx="293.7" cy="214.8" r="1.0"/><circle cx="297.7" cy="215.7" r="1.0"/><circle cx="301.7" cy="216.2" r="1.0"/><circle cx="305.7" cy="217.1" r="1.0"/><circle cx="309.7" cy="218.0" r="1.0"/><circle cx="313.7" cy="218.6" r="1.0"/><circle cx="317.7" cy="219.3" r="1.0"/><circle cx="321.7" cy="219.9" r="1.0"/><circle cx="325.7" cy="220.2" r="1.0"/><circle cx="329.7" cy="220.6" r="1.0"/><circle cx="333.7" cy="220.9" r="1.0"/><circle cx="337.7" cy="221.2" r="1.0"/><circle cx="341.7" cy="221.6" r="1.0"/><circle cx="345.7" cy="221.9" r="1.0"/><circle cx="349.8" cy="222.1" r="1.0"/><circle cx="353.8" cy="222.3" r="1.0"/><circle cx="357.8" cy="222.6" r="1.0"/><circle cx="361.8" cy="222.8" r="1.0"/><circle cx="365.8" cy="223.0" r="1.0"/><circle cx="369.8" cy="223.3" r="1.0"/><circle cx="373.8" cy="223.6" r="1.0"/><circle cx="377.8" cy="224.0" r="1.0"/><circle cx="381.8" cy="224.3" r="1.0"/><circle cx="385.8" cy="224.6" r="1.0"/><circle cx="389.8" cy="224.8" r="1.0"/><circle cx="393.8" cy="225.1" r="1.0"/><circle cx="397.8" cy="225.3" r="1.0"/><circle cx="401.8" cy="225.6" r="1.0"/><circle cx="405.8" cy="225.8" r="1.0"/><circle cx="409.8" cy="226.0" r="1.0"/><circle cx="413.8" cy="226.2" r="1.0"/><circle cx="417.8" cy="226.5" r="1.0"/><circle cx="421.8" cy="226.7" r="1.0"/><circle cx="425.8" cy="226.9" r="1.0"/><circle cx="429.8" cy="227.2" r="1.0"/><circle cx="433.8" cy="227.4" r="1.0"/><circle cx="437.8" cy="227.7" r="1.0"/><circle cx="441.8" cy="227.9" r="1.0"/><circle cx="445.8" cy="228.0" r="1.0"/><circle cx="449.9" cy="228.1" r="1.0"/><circle cx="453.9" cy="228.2" r="1.0"/><circle cx="457.9" cy="228.4" r="1.0"/><circle cx="461.9" cy="228.5" r="1.0"/><circle cx="465.9" cy="228.6" r="1.0"/><circle cx="469.9" cy="228.7" r="1.0"/><circle cx="473.9" cy="228.8" r="1.0"/><circle cx="477.9" cy="228.9" r="1.0"/><circle cx="481.9" cy="229.0" r="1.0"/><circle cx="485.9" cy="229.1" r="1.0"/><circle cx="489.9" cy="229.2" r="1.0"/><circle cx="493.9" cy="229.3" r="1.0"/><circle cx="497.9" cy="229.4" r="1.0"/><circle cx="501.9" cy="229.5" r="1.0"/><circle cx="505.9" cy="229.6" r="1.0"/><circle cx="509.9" cy="229.7" r="1.0"/><circle cx="513.9" cy="229.7" r="1.0"/><circle cx="517.9" cy="229.8" r="1.0"/></g>
<polyline fill="none" stroke="#4e79a7" stroke-width="1.0" stroke-linejoin="round" stroke-linecap="round" points="89.5,196.7 93.5,195.8 97.5,195.7 101.5,195.7 105.5,195.7 109.5,195.7 113.5,195.7 117.5,168.6 121.5,168.8 125.5,167.1 129.5,166.5 133.5,165.0 137.5,163.5 141.5,162.3 145.6,161.9 149.6,233.8 153.6,233.4 157.6,233.6 161.6,231.2 165.6,229.0 169.6,229.4 173.6,228.5 177.6,227.6 181.6,226.1 185.6,226.3 189.6,211.2 193.6,197.7 197.6,195.9 201.6,176.5 205.6,169.6 209.6,158.5 213.6,148.7 217.6,142.9 221.6,138.1 225.6,112.3 229.6,102.2 233.6,91.8 237.6,82.2 241.6,72.3 245.6,62.3 249.7,53.1 253.7,43.0 257.7,35.8 261.7,28.7 265.7,24.8 269.7,22.1 273.7,19.9 277.7,17.9 281.7,18.1 285.7,18.5 289.7,19.0 293.7,23.0 297.7,26.7 301.7,30.3 305.7,34.3 309.7,40.3 313.7,45.8 317.7,51.9 321.7,59.3 325.7,67.2 329.7,72.1 333.7,77.6 337.7,85.8 341.7,91.7 345.7,98.9 349.8,106.3 353.8,114.0 357.8,118.6 361.8,123.5 365.8,127.8 369.8,136.2 373.8,143.5 377.8,149.8 381.8,157.7 385.8,164.6 389.8,172.1 393.8,179.8 397.8,186.2 401.8,191.7 405.8,196.6 409.8,199.3 413.8,202.2 417.8,204.9 421.8,209.6 425.8,212.6 429.8,214.3 433.8,215.9 437.8,217.9 441.8,220.3 445.8,222.1 449.9,222.7 453.9,223.5 457.9,223.8 461.9,223.9 465.9,224.0 469.9,224.0 473.9,224.1 477.9,224.2 481.9,224.3 485.9,224.4 489.9,224.4 493.9,224.5 497.9,224.6 501.9,224.7 505.9,224.9 509.9,225.0 513.9,225.2 517.9,225.3"/>
<g fill="#4e79a7"><circle cx="89.5" cy="196.7" r="1.0"/><circle cx="93.5" cy="195.8" r="1.0"/><circle cx="97.5" cy="195.7" r="1.0"/><circle cx="101.5" cy="195.7" r="1.0"/><circle cx="105.5" cy="195.7" r="1.0"/><circle cx="109.5" cy="195.7" r="1.0"/><circle cx="113.5" cy="195.7" r="1.0"/><circle cx="117.5" cy="168.6" r="1.0"/><circle cx="121.5" cy="168.8" r="1.0"/><circle cx="125.5" cy="167.1" r="1.0"/><circle cx="129.5" cy="166.5" r="1.0"/><circle cx="133.5" cy="165.0" r="1.0"/><circle cx="137.5" cy="163.5" r="1.0"/><circle cx="141.5" cy="162.3" r="1.0"/><circle cx="145.6" cy="161.9" r="1.0"/><circle cx="149.6" cy="233.8" r="1.0"/><circle cx="153.6" cy="233.4" r="1.0"/><circle cx="157.6" cy="233.6" r="1.0"/><circle cx="161.6" cy="231.2" r="1.0"/><circle cx="165.6" cy="229.0" r="1.0"/><circle cx="169.6" cy="229.4" r="1.0"/><circle cx="173.6" cy="228.5" r="1.0"/><circle cx="177.6" cy="227.6" r="1.0"/><circle cx="181.6" cy="226.1" r="1.0"/><circle cx="185.6" cy="226.3" r="1.0"/><circle cx="189.6" cy="211.2" r="1.0"/><circle cx="193.6" cy="197.7" r="1.0"/><circle cx="197.6" cy="195.9" r="1.0"/><circle cx="201.6" cy="176.5" r="1.0"/><circle cx="205.6" cy="169.6" r="1.0"/><circle cx="209.6" cy="158.5" r="1.0"/><circle cx="213.6" cy="148.7" r="1.0"/><circle cx="217.6" cy="142.9" r="1.0"/><circle cx="221.6" cy="138.1" r="1.0"/><circle cx="225.6" cy="112.3" r="1.0"/><circle cx="229.6" cy="102.2" r="1.0"/><circle cx="233.6" cy="91.8" r="1.0"/><circle cx="237.6" cy="82.2" r="1.0"/><circle cx="241.6" cy="72.3" r="1.0"/><circle cx="245.6" cy="62.3" r="1.0"/><circle cx="249.7" cy="53.1" r="1.0"/><circle cx="253.7" cy="43.0" r="1.0"/><circle cx="257.7" cy="35.8" r="1.0"/><circle cx="261.7" cy="28.7" r="1.0"/><circle cx="265.7" cy="24.8" r="1.0"/><circle cx="269.7" cy="22.1" r="1.0"/><circle cx="273.7" cy="19.9" r="1.0"/><circle cx="277.7" cy="17.9" r="1.0"/><circle cx="281.7" cy="18.1" r="1.0"/><circle cx="285.7" cy="18.5" r="1.0"/><circle cx="289.7" cy="19.0" r="1.0"/><circle cx="293.7" cy="23.0" r="1.0"/><circle cx="297.7" cy="26.7" r="1.0"/><circle cx="301.7" cy="30.3" r="1.0"/><circle cx="305.7" cy="34.3" r="1.0"/><circle cx="309.7" cy="40.3" r="1.0"/><circle cx="313.7" cy="45.8" r="1.0"/><circle cx="317.7" cy="51.9" r="1.0"/><circle cx="321.7" cy="59.3" r="1.0"/><circle cx="325.7" cy="67.2" r="1.0"/><circle cx="329.7" cy="72.1" r="1.0"/><circle cx="333.7" cy="77.6" r="1.0"/><circle cx="337.7" cy="85.8" r="1.0"/><circle cx="341.7" cy="91.7" r="1.0"/><circle cx="345.7" cy="98.9" r="1.0"/><circle cx="349.8" cy="106.3" r="1.0"/><circle cx="353.8" cy="114.0" r="1.0"/><circle cx="357.8" cy="118.6" r="1.0"/><circle cx="361.8" cy="123.5" r="1.0"/><circle cx="365.8" cy="127.8" r="1.0"/><circle cx="369.8" cy="136.2" r="1.0"/><circle cx="373.8" cy="143.5" r="1.0"/><circle cx="377.8" cy="149.8" r="1.0"/><circle cx="381.8" cy="157.7" r="1.0"/><circle cx="385.8" cy="164.6" r="1.0"/><circle cx="389.8" cy="172.1" r="1.0"/><circle cx="393.8" cy="179.8" r="1.0"/><circle cx="397.8" cy="186.2" r="1.0"/><circle cx="401.8" cy="191.7" r="1.0"/><circle cx="405.8" cy="196.6" r="1.0"/><circle cx="409.8" cy="199.3" r="1.0"/><circle cx="413.8" cy="202.2" r="1.0"/><circle cx="417.8" cy="204.9" r="1.0"/><circle cx="421.8" cy="209.6" r="1.0"/><circle cx="425.8" cy="212.6" r="1.0"/><circle cx="429.8" cy="214.3" r="1.0"/><circle cx="433.8" cy="215.9" r="1.0"/><circle cx="437.8" cy="217.9" r="1.0"/><circle cx="441.8" cy="220.3" r="1.0"/><circle cx="445.8" cy="222.1" r="1.0"/><circle cx="449.9" cy="222.7" r="1.0"/><circle cx="453.9" cy="223.5" r="1.0"/><circle cx="457.9" cy="223.8" r="1.0"/><circle cx="461.9" cy="223.9" r="1.0"/><circle cx="465.9" cy="224.0" r="1.0"/><circle cx="469.9" cy="224.0" r="1.0"/><circle cx="473.9" cy="224.1" r="1.0"/><circle cx="477.9" cy="224.2" r="1.0"/><circle cx="481.9" cy="224.3" r="1.0"/><circle cx="485.9" cy="224.4" r="1.0"/><circle cx="489.9" cy="224.4" r="1.0"/><circle cx="493.9" cy="224.5" r="1.0"/><circle cx="497.9" cy="224.6" r="1.0"/><circle cx="501.9" cy="224.7" r="1.0"/><circle cx="505.9" cy="224.9" r="1.0"/><circle cx="509.9" cy="225.0" r="1.0"/><circle cx="513.9" cy="225.2" r="1.0"/><circle cx="517.9" cy="225.3" r="1.0"/></g>
<polyline fill="none" stroke="#76b7b2" stroke-width="1.0" stroke-linejoin="round" stroke-linecap="round" points="53.5,251.9 57.5,251.8 61.5,251.7 65.5,251.5 69.5,251.4 73.5,251.3 77.5,251.2 81.5,251.0 85.5,250.9 89.5,250.6 93.5,250.2 97.5,249.9 101.5,249.6 105.5,249.3 109.5,249.1 113.5,248.8 117.5,248.5 121.5,248.0 125.5,247.5 129.5,247.0 133.5,246.4 137.5,245.9 141.5,245.4 145.6,244.9 149.6,248.5 153.6,248.4 157.6,248.3 161.6,248.2 165.6,248.1 169.6,247.9 173.6,247.8 177.6,247.7 181.6,247.6 185.6,247.7 189.6,247.7 193.6,247.8 197.6,247.9 201.6,247.9 205.6,248.0 209.6,248.1 213.6,248.1 217.6,248.2 221.6,248.2 225.6,248.3 229.6,248.4 233.6,248.4 237.6,248.5 241.6,248.6 245.6,248.6 249.7,248.7 253.7,248.8 257.7,248.9 261.7,249.0 265.7,249.0 269.7,249.1 273.7,249.2 277.7,249.3 281.7,249.4 285.7,249.5 289.7,249.5 293.7,249.6 297.7,249.7 301.7,249.8 305.7,249.8 309.7,249.8 313.7,249.8 317.7,249.8 321.7,249.8 325.7,249.8 329.7,249.8 333.7,249.8 337.7,249.8 341.7,249.8 345.7,249.8 349.8,249.8 353.8,247.6 357.8,247.0 361.8,246.7 365.8,245.4 369.8,245.4 373.8,245.5 377.8,245.5 381.8,245.5 385.8,245.6 389.8,245.6 393.8,245.6 397.8,245.6 401.8,245.7 405.8,245.7 409.8,245.7 413.8,245.8 417.8,245.8 421.8,247.2 425.8,247.4 429.8,247.7 433.8,247.9 437.8,248.0 441.8,248.1 445.8,248.1 449.9,248.1 453.9,248.1 457.9,248.1 461.9,248.2 465.9,248.2 469.9,248.2 473.9,248.2 477.9,248.2 481.9,248.2 485.9,248.2 489.9,248.2 493.9,248.2 497.9,248.2 501.9,248.3 505.9,248.3 509.9,248.3 513.9,248.3 517.9,248.3"/>
<g fill="#76b7b2"><circle cx="53.5" cy="251.9" r="1.0"/><circle cx="57.5" cy="251.8" r="1.0"/><circle cx="61.5" cy="251.7" r="1.0"/><circle cx="65.5" cy="251.5" r="1.0"/><circle cx="69.5" cy="251.4" r="1.0"/><circle cx="73.5" cy="251.3" r="1.0"/><circle cx="77.5" cy="251.2" r="1.0"/><circle cx="81.5" cy="251.0" r="1.0"/><circle cx="85.5" cy="250.9" r="1.0"/><circle cx="89.5" cy="250.6" r="1.0"/><circle cx="93.5" cy="250.2" r="1.0"/><circle cx="97.5" cy="249.9" r="1.0"/><circle cx="101.5" cy="249.6" r="1.0"/><circle cx="105.5" cy="249.3" r="1.0"/><circle cx="109.5" cy="249.1" r="1.0"/><circle cx="113.5" cy="248.8" r="1.0"/><circle cx="117.5" cy="248.5" r="1.0"/><circle cx="121.5" cy="248.0" r="1.0"/><circle cx="125.5" cy="247.5" r="1.0"/><circle cx="129.5" cy="247.0" r="1.0"/><circle cx="133.5" cy="246.4" r="1.0"/><circle cx="137.5" cy="245.9" r="1.0"/><circle cx="141.5" cy="245.4" r="1.0"/><circle cx="145.6" cy="244.9" r="1.0"/><circle cx="149.6" cy="248.5" r="1.0"/><circle cx="153.6" cy="248.4" r="1.0"/><circle cx="157.6" cy="248.3" r="1.0"/><circle cx="161.6" cy="248.2" r="1.0"/><circle cx="165.6" cy="248.1" r="1.0"/><circle cx="169.6" cy="247.9" r="1.0"/><circle cx="173.6" cy="247.8" r="1.0"/><circle cx="177.6" cy="247.7" r="1.0"/><circle cx="181.6" cy="247.6" r="1.0"/><circle cx="185.6" cy="247.7" r="1.0"/><circle cx="189.6" cy="247.7" r="1.0"/><circle cx="193.6" cy="247.8" r="1.0"/><circle cx="197.6" cy="247.9" r="1.0"/><circle cx="201.6" cy="247.9" r="1.0"/><circle cx="205.6" cy="248.0" r="1.0"/><circle cx="209.6" cy="248.1" r="1.0"/><circle cx="213.6" cy="248.1" r="1.0"/><circle cx="217.6" cy="248.2" r="1.0"/><circle cx="221.6" cy="248.2" r="1.0"/><circle cx="225.6" cy="248.3" r="1.0"/><circle cx="229.6" cy="248.4" r="1.0"/><circle cx="233.6" cy="248.4" r="1.0"/><circle cx="237.6" cy="248.5" r="1.0"/><circle cx="241.6" cy="248.6" r="1.0"/><circle cx="245.6" cy="248.6" r="1.0"/><circle cx="249.7" cy="248.7" r="1.0"/><circle cx="253.7" cy="248.8" r="1.0"/><circle cx="257.7" cy="248.9" r="1.0"/><circle cx="261.7" cy="249.0" r="1.0"/><circle cx="265.7" cy="249.0" r="1.0"/><circle cx="269.7" cy="249.1" r="1.0"/><circle cx="273.7" cy="249.2" r="1.0"/><circle cx="277.7" cy="249.3" r="1.0"/><circle cx="281.7" cy="249.4" r="1.0"/><circle cx="285.7" cy="249.5" r="1.0"/><circle cx="289.7" cy="249.5" r="1.0"/><circle cx="293.7" cy="249.6" r="1.0"/><circle cx="297.7" cy="249.7" r="1.0"/><circle cx="301.7" cy="249.8" r="1.0"/><circle cx="305.7" cy="249.8" r="1.0"/><circle cx="309.7" cy="249.8" r="1.0"/><circle cx="313.7" cy="249.8" r="1.0"/><circle cx="317.7" cy="249.8" r="1.0"/><circle cx="321.7" cy="249.8" r="1.0"/><circle cx="325.7" cy="249.8" r="1.0"/><circle cx="329.7" cy="249.8" r="1.0"/><circle cx="333.7" cy="249.8" r="1.0"/><circle cx="337.7" cy="249.8" r="1.0"/><circle cx="341.7" cy="249.8" r="1.0"/><circle cx="345.7" cy="249.8" r="1.0"/><circle cx="349.8" cy="249.8" r="1.0"/><circle cx="353.8" cy="247.6" r="1.0"/><circle cx="357.8" cy="247.0" r="1.0"/><circle cx="361.8" cy="246.7" r="1.0"/><circle cx="365.8" cy="245.4" r="1.0"/><circle cx="369.8" cy="245.4" r="1.0"/><circle cx="373.8" cy="245.5" r="1.0"/><circle cx="377.8" cy="245.5" r="1.0"/><circle cx="381.8" cy="245.5" r="1.0"/><circle cx="385.8" cy="245.6" r="1.0"/><circle cx="389.8" cy="245.6" r="1.0"/><circle cx="393.8" cy="245.6" r="1.0"/><circle cx="397.8" cy="245.6" r="1.0"/><circle cx="401.8" cy="245.7" r="1.0"/><circle cx="405.8" cy="245.7" r="1.0"/><circle cx="409.8" cy="245.7" r="1.0"/><circle cx="413.8" cy="245.8" r="1.0"/><circle cx="417.8" cy="245.8" r="1.0"/><circle cx="421.8" cy="247.2" r="1.0"/><circle cx="425.8" cy="247.4" r="1.0"/><circle cx="429.8" cy="247.7" r="1.0"/><circle cx="433.8" cy="247.9" r="1.0"/><circle cx="437.8" cy="248.0" r="1.0"/><circle cx="441.8" cy="248.1" r="1.0"/><circle cx="445.8" cy="248.1" r="1.0"/><circle cx="449.9" cy="248.1" r="1.0"/><circle cx="453.9" cy="248.1" r="1.0"/><circle cx="457.9" cy="248.1" r="1.0"/><circle cx="461.9" cy="248.2" r="1.0"/><circle cx="465.9" cy="248.2" r="1.0"/><circle cx="469.9" cy="248.2" r="1.0"/><circle cx="473.9" cy="248.2" r="1.0"/><circle cx="477.9" cy="248.2" r="1.0"/><circle cx="481.9" cy="248.2" r="1.0"/><circle cx="485.9" cy="248.2" r="1.0"/><circle cx="489.9" cy="248.2" r="1.0"/><circle cx="493.9" cy="248.2" r="1.0"/><circle cx="497.9" cy="248.2" r="1.0"/><circle cx="501.9" cy="248.3" r="1.0"/><circle cx="505.9" cy="248.3" r="1.0"/><circle cx="509.9" cy="248.3" r="1.0"/><circle cx="513.9" cy="248.3" r="1.0"/><circle cx="517.9" cy="248.3" r="1.0"/></g>
<text x="290.9" y="14.94" transform="rotate(0.05 290.9 14.94)" font-size="4.12" fill="#444" stroke="#444" stroke-width="0.06">12 May 2003</text>
<text x="290.9" y="20.34" transform="rotate(0.05 290.9 20.34)" font-size="4.12" fill="#444" stroke="#444" stroke-width="0.06">China(mainland):3,320</text>
<text x="361.2" y="202.85" transform="rotate(0.05 361.2 202.85)" font-size="4.15" fill="#444" stroke="#444" stroke-width="0.06" text-anchor="middle">2 June 2003</text>
<text x="361.2" y="207.95" transform="rotate(0.05 361.2 207.95)" font-size="4.15" fill="#444" stroke="#444" stroke-width="0.06" text-anchor="middle">Taiwan, China:550</text>
<text x="387.1" y="235.72" transform="rotate(0.05 387.1 235.72)" font-size="4.05" fill="#444" stroke="#444" stroke-width="0.06" text-anchor="middle">8 June 2003</text>
<text x="387.1" y="240.62" transform="rotate(0.05 387.1 240.62)" font-size="4.05" fill="#444" stroke="#444" stroke-width="0.06" text-anchor="middle">Canada:101</text>
<text x="177.3" y="167.12" transform="rotate(0.05 177.3 167.12)" font-size="3.48" fill="#444" stroke="#444" stroke-width="0.04" text-anchor="middle">17 April 2003</text>
<text x="177.3" y="171.62" transform="rotate(0.05 177.3 171.62)" font-size="3.48" fill="#444" stroke="#444" stroke-width="0.04" text-anchor="middle">Hongkong, China: 1,025</text>
<text x="142.2" y="237.97" transform="rotate(0.05 142.2 237.97)" font-size="3.62" fill="#444" stroke="#444" stroke-width="0.04" text-anchor="end">9 April 2003</text>
<text x="142.2" y="242.77" transform="rotate(0.05 142.2 242.77)" font-size="3.62" fill="#444" stroke="#444" stroke-width="0.04" text-anchor="end">Singapore:118</text>
</g>
</svg></div>
</body></html>
